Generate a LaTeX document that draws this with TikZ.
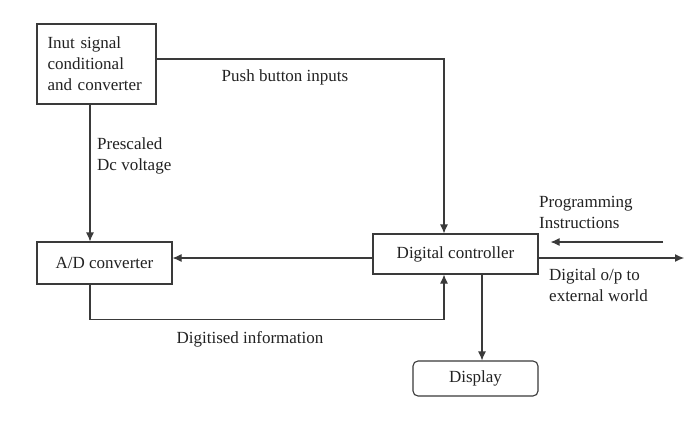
\documentclass[tikz,border=0pt]{standalone}
\usepackage{fontspec}
\setmainfont{Liberation Serif}
\usetikzlibrary{arrows.meta}
\definecolor{ink}{HTML}{3a3a3a}
\definecolor{txt}{HTML}{222222}
\begin{document}
\begin{tikzpicture}[x=1pt,y=-1pt,
  every node/.style={font=\fontsize{17}{21}\selectfont, text=txt},
  blk/.style={draw=ink, line width=1.1pt, inner sep=0pt},
  lbl/.style={align=left, inner sep=0pt},
  arr/.style={draw=ink, line width=1.1pt, -{Latex[length=9pt,width=8pt]}},
  ln/.style={draw=ink, line width=1.1pt}]
\useasboundingbox[fill=white] (0,0) rectangle (696,423);
\node[blk, minimum width=119pt, minimum height=80pt, text width=98pt, align=left] (inp) at (96.5,64) {Inut signal\\conditional\\and converter};
\node[blk, minimum width=135pt, minimum height=42pt] (ad) at (104.5,263) {A/D converter};
\node[blk, minimum width=165pt, minimum height=40pt] (dc) at (455.5,254) {Digital controller};
\node[blk, rounded corners=5pt, minimum width=125pt, minimum height=35pt] (disp) at (475.5,378.5) {Display};
\node[lbl, anchor=center] (pb) at (285,77) {Push button inputs};
\node[lbl, anchor=north west] (pre) at (97,138) {Prescaled\\Dc voltage};
\node[lbl, anchor=north west] (prog) at (539,196) {Programming\\Instructions};
\node[lbl, anchor=north west] (dout) at (549,269) {Digital o/p to\\external world};
\node[lbl, anchor=center] (dinf) at (250,339) {Digitised information};
\coordinate (pin) at (663,242);
\coordinate (pout) at (684,258);
\draw[arr] ([yshift=5pt]inp.east) -| ([xshift=-11.5pt]dc.north);
\draw[arr] ([xshift=-6.5pt]inp.south) -- ([xshift=-14.5pt]ad.north);
\draw[arr] ([yshift=-4pt]dc.west) -- ([yshift=-4pt]dc.west -| ad.east);
\draw[arr] ([xshift=-14.5pt]ad.south) -- ++(0,35) -| ([xshift=-11.5pt]dc.south);
\draw[arr] (pin) -- ([xshift=12pt]dc.east |- pin);
\draw[arr] ([yshift=-4pt]dc.east) -- (pout);
\draw[arr] ([xshift=26.5pt]dc.south) -- ([xshift=6.5pt]disp.north);
\end{tikzpicture}
\end{document}
